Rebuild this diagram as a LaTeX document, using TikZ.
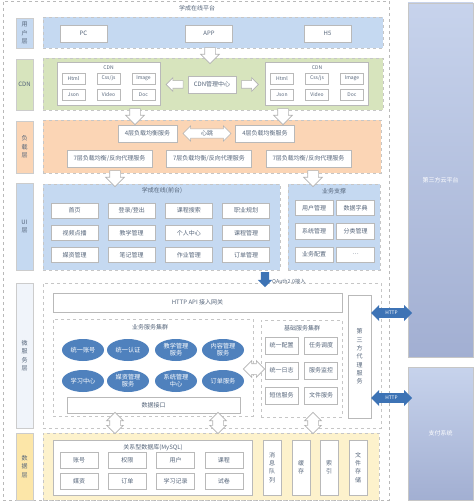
\documentclass[tikz,border=0pt]{standalone}
\usepackage{fontspec}
\setmainfont{Noto Sans CJK SC}
\usetikzlibrary{shapes.geometric,shapes.arrows}
\definecolor{txt}{HTML}{55657A}
\definecolor{ublue}{HTML}{C5D9F1}
\definecolor{cgreen}{HTML}{D7E4BD}
\definecolor{lorange}{HTML}{FBD5B5}
\definecolor{dyellow}{HTML}{FDF2CC}
\definecolor{dtag}{HTML}{FCE6A8}
\definecolor{mtag}{HTML}{F0F4FA}
\definecolor{sblue}{HTML}{4F81BD}
\definecolor{hblue}{HTML}{3D73B5}
\definecolor{sidetop}{HTML}{C7D3EC}
\definecolor{sidebot}{HTML}{A2AFD2}
\begin{document}
\begin{tikzpicture}[
    x=1pt, y=-1pt,
    font=\fontsize{6}{7}\selectfont,
    every node/.style={inner sep=0pt, text=txt},
    tag/.style={fill=#1, draw=gray!40, line width=.6pt, minimum width=17, align=center, font=\fontsize{6}{8.5}\selectfont},
    panel/.style={fill=#1, draw=gray!45, dashed, line width=.6pt},
    box/.style={draw=gray!55, fill=white, line width=.6pt, minimum width=#1, minimum height=15},
    box/.default=38,
    cell/.style={draw=gray!55, fill=white, line width=.5pt, minimum width=23, minimum height=11, font=\fontsize{5}{6}\selectfont},
    vtext/.style={align=center, font=\fontsize{6}{8.3}\selectfont},
    svc/.style={ellipse, fill=sblue, text=white, minimum width=42, minimum height=22, align=center, font=\fontsize{6.2}{6.8}\selectfont},
    hollow/.style={single arrow, draw=gray!60, fill=white, line width=.6pt, inner sep=5, minimum width=18, single arrow head extend=4, minimum height=#1},
    hollow2/.style={double arrow, draw=gray!60, fill=white, line width=.6pt, inner sep=5, minimum width=16, double arrow head extend=3, minimum height=#1},
    httparrow/.style={double arrow, fill=hblue, text=white, inner xsep=1, inner ysep=2.5, minimum width=16, double arrow head extend=3, minimum height=41, font=\fontsize{4.8}{5}\selectfont},
    side/.style={draw=gray!45, top color=sidetop, bottom color=sidebot, minimum width=65, text=white}
  ]
    \useasboundingbox (0,0) rectangle (474,502);
    \node[draw=gray!55, dashed, line width=.6pt, minimum width=386, minimum height=499] (frame) at (196,250.5) {};
    \node (title) at (197,8) {学成在线平台};

    \node[side, minimum height=354] (cloud) at (440.5,180) {第三方云平台};
    \node[side, minimum height=133] (pay) at (440.5,433.5) {支付系统};

    \node[tag=ublue, minimum height=30] (tagU) at (24.5,33) {用\\户\\层};
    \node[tag=cgreen, minimum height=51] (tagC) at (24.5,84.5) {CDN};
    \node[tag=lorange, minimum height=52] (tagL) at (24.5,147) {负\\载\\层};
    \node[tag=ublue, minimum height=87] (tagUI) at (24.5,226.5) {UI\\层};
    \node[tag=mtag, minimum height=145] (tagM) at (24.5,355.5) {微\\服\\务\\层};
    \node[tag=dtag, minimum height=67] (tagD) at (24.5,466.5) {数\\据\\层};

    \node[panel=ublue, minimum width=340, minimum height=31] (pU) at (213,32.5) {};
    \node[panel=cgreen, minimum width=340, minimum height=52] (pC) at (213,84) {};
    \node[panel=lorange, minimum width=338, minimum height=53] (pL) at (212,146.5) {};
    \node[panel=ublue, minimum width=237, minimum height=86] (pUI) at (161.5,227) {};
    \node[panel=ublue, minimum width=92, minimum height=86] (pS) at (334,227) {};
    \node[panel=white, minimum width=338, minimum height=145] (pM) at (212,355.5) {};
    \node[panel=dyellow, minimum width=336, minimum height=67] (pD) at (211,466.5) {};

    \node[box=47, minimum height=17] (pc) at (83.5,33.5) {PC};
    \node[box=47, minimum height=17] (app) at (209,33.5) {APP};
    \node[box=47, minimum height=17] (h5) at (327.5,33.5) {H5};

    \node[hollow=12, shape border rotate=270] (toCdn) at (210,53) {};
    \foreach \s/\cx in {A/108.5,B/317} {
      \node[box=103, minimum height=43] (cdn\s) at (\cx,83.5) {};
      \node[font=\fontsize{5}{6}\selectfont] (cdn\s t) at (\cx,68) {CDN};
      \foreach \t/\c/\r [count=\i] in {Html/0/0,{Css/js}/1/0,Image/2/0,Json/0/1,Video/1/1,Doc/2/1}
        \node[cell] (cdn\s\i) at (\cx-35+35*\c,78.5+16*\r) {\t};
    }
    \node[box=48, minimum height=17] (cdnMgr) at (212,84.5) {CDN管理中心};
    \node[hollow=17, inner sep=3.5, minimum width=13, single arrow head extend=3, shape border rotate=180] (mgrA) at (176.5,84.5) {};
    \node[hollow=17, inner sep=3.5, minimum width=13, single arrow head extend=3] (mgrB) at (248,84.5) {};
    \node[hollow=13, shape border rotate=270] (toLbA) at (135,114) {};
    \node[hollow=13, shape border rotate=270] (toLbB) at (283,114) {};

    \node[box=59, minimum height=17] (lb4a) at (147.5,133.5) {4层负载均衡服务};
    \node[box=59, minimum height=17] (lb4b) at (265,133.5) {4层负载均衡服务};
    \node[hollow2=48, inner sep=1.5, minimum width=15] (beat) at (207,133.5) {心跳};
    \foreach \x [count=\i] in {109.5,209,308.5}
      \node[box=85, minimum height=17] (lb7\i) at (\x,158.5) {7层负载均衡/反向代理服务};
    \node[hollow=15, shape border rotate=270] (toUiA) at (115,176) {};
    \node[hollow=15, shape border rotate=270] (toUiB) at (313,176) {};

    \node (uiT) at (162,191) {学成在线(前台)};
    \foreach \t/\c/\r [count=\i] in {首页/0/0,{登录/登出}/1/0,课程搜索/2/0,职业规划/3/0,视频点播/0/1,教学管理/1/1,个人中心/2/1,课程管理/3/1,媒资管理/0/2,笔记管理/1/2,作业管理/2/2,订单管理/3/2}
      \node[box=47] (ui\i) at (74.5+57.2*\c,210.5+22.3*\r) {\t};
    \node (spT) at (334,191) {业务支撑};
    \foreach \t/\c/\r [count=\i] in {用户管理/0/0,数据字典/1/0,系统管理/0/1,分类管理/1/1,业务配置/0/2,…/1/2}
      \node[box=38] (sp\i) at (314+41.5*\c,208+23.3*\r) {\t};

    \node[single arrow, fill=hblue, inner sep=4, minimum width=14, single arrow head extend=3, minimum height=15, shape border rotate=270] (oauth) at (265,277.5) {};
    \node[anchor=west, font=\fontsize{5.3}{6}\selectfont] (oauthT) at (272,281) {OAuth2.0接入};

    \node[box=289, minimum height=19] (gw) at (197.5,302.5) {HTTP API 接入网关};
    \node[panel=white, minimum width=200, minimum height=97] (biz) at (153,367.5) {};
    \node (bizT) at (150,327) {业务服务集群};
    \foreach \t/\x/\y [count=\i] in {统一账号/83/350,统一认证/128/350,{教学管理\\服务}/176/350,{内容管理\\服务}/223/350,学习中心/83/381,{媒资管理\\服务}/128/381,{系统管理\\中心}/176/381,订单服务/223/381}
      \node[svc] (svc\i) at (\x,\y) {\t};
    \node[box=173, minimum height=16] (dapi) at (153.5,405) {数据接口};
    \node[panel=white, minimum width=81, minimum height=97] (base) at (301.5,368.5) {};
    \node[hollow2=18] (bizBase) at (254,369) {};
    \node (baseT) at (302,328) {基础服务集群};
    \foreach \t/\c/\r [count=\i] in {统一配置/0/0,任务调度/1/0,统一日志/0/1,服务监控/1/1,短信服务/0/2,文件服务/1/2}
      \node[box=33, minimum height=17] (bs\i) at (281.5+39.5*\c,345.5+25*\r) {\t};
    \node[box=23, minimum height=123, vtext] (proxy) at (359.5,356.5) {第\\三\\方\\代\\理\\服\\务};
    \node[httparrow] (http1) at (391.5,313) {HTTP};
    \node[httparrow] (http2) at (391.5,398) {HTTP};
    \foreach \x [count=\i] in {115,218,313}
      \node[hollow2=20, shape border rotate=90] (md\i) at (\x,423) {};

    \node[box=199, minimum height=55] (mysql) at (152.5,467.5) {};
    \node (mysqlT) at (153,448) {关系型数据库(MySQL)};
    \foreach \t/\c/\r [count=\i] in {账号/0/0,权限/1/0,用户/2/0,课程/3/0,媒资/0/1,订单/1/1,学习记录/2/1,试卷/3/1}
      \node[box=38, minimum height=16] (db\i) at (79+48.3*\c,460+21.5*\r) {\t};
    \foreach \t/\x [count=\i] in {{消\\息\\队\\列}/272,{缓\\存}/301,{索\\引}/329,{文\\件\\存\\储}/358}
      \node[box=18, minimum height=55, vtext] (st\i) at (\x,467.5) {\t};
  \end{tikzpicture}
\end{document}
